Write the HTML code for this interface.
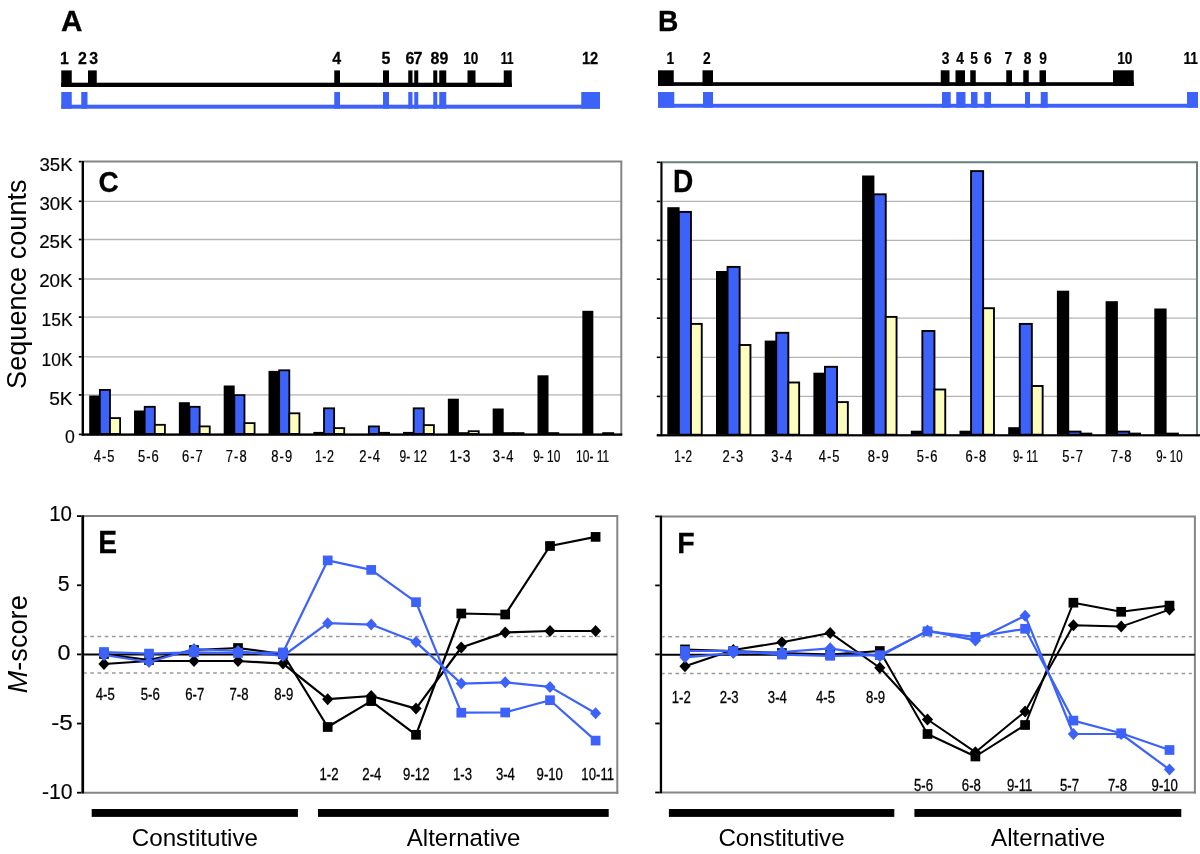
<!DOCTYPE html>
<html><head><meta charset="utf-8"><title>Figure</title>
<style>
html,body{margin:0;padding:0;background:#fff;}
svg{display:block;font-family:"Liberation Sans",sans-serif;}
</style></head><body>
<svg width="1200" height="854" viewBox="0 0 1200 854">
<rect x="0" y="0" width="1200" height="854" fill="#fff"/>
<text transform="translate(60.96,30.90) scale(0.9900,1)" font-size="30" font-weight="bold" stroke="#000" stroke-width="0.3" fill="#000">A</text>
<text transform="translate(658.10,30.60) scale(0.9399,1)" font-size="30" font-weight="bold" stroke="#000" stroke-width="0.3" fill="#000">B</text>
<rect x="61.25" y="82.70" width="450.50" height="4.30" fill="#000"/>
<rect x="61.25" y="70.40" width="10.50" height="16.60" fill="#000"/>
<rect x="88.00" y="70.40" width="8.75" height="16.60" fill="#000"/>
<rect x="334.25" y="70.40" width="5.75" height="16.60" fill="#000"/>
<rect x="383.00" y="70.40" width="6.00" height="16.60" fill="#000"/>
<rect x="408.25" y="70.40" width="4.25" height="16.60" fill="#000"/>
<rect x="414.25" y="70.40" width="4.00" height="16.60" fill="#000"/>
<rect x="433.25" y="70.40" width="4.00" height="16.60" fill="#000"/>
<rect x="439.25" y="70.40" width="7.00" height="16.60" fill="#000"/>
<rect x="467.50" y="70.40" width="8.00" height="16.60" fill="#000"/>
<rect x="503.75" y="70.40" width="8.00" height="16.60" fill="#000"/>
<rect x="61.25" y="104.70" width="538.75" height="4.00" fill="#3c62fa"/>
<rect x="61.25" y="92.00" width="10.50" height="16.70" fill="#3c62fa"/>
<rect x="81.25" y="92.00" width="6.25" height="16.70" fill="#3c62fa"/>
<rect x="334.25" y="92.00" width="5.75" height="16.70" fill="#3c62fa"/>
<rect x="383.00" y="92.00" width="6.00" height="16.70" fill="#3c62fa"/>
<rect x="408.25" y="92.00" width="4.25" height="16.70" fill="#3c62fa"/>
<rect x="414.25" y="92.00" width="4.00" height="16.70" fill="#3c62fa"/>
<rect x="433.25" y="92.00" width="4.00" height="16.70" fill="#3c62fa"/>
<rect x="439.25" y="92.00" width="7.00" height="16.70" fill="#3c62fa"/>
<rect x="581.25" y="92.00" width="18.75" height="16.70" fill="#3c62fa"/>
<text transform="translate(59.98,63.90) scale(0.9600,1)" font-size="16.6" font-weight="bold" stroke="#000" stroke-width="0.25" fill="#000">1</text>
<text transform="translate(78.10,63.90) scale(0.9600,1)" font-size="16.6" font-weight="bold" stroke="#000" stroke-width="0.25" fill="#000">2</text>
<text transform="translate(89.28,63.90) scale(0.9600,1)" font-size="16.6" font-weight="bold" stroke="#000" stroke-width="0.25" fill="#000">3</text>
<text transform="translate(332.23,63.90) scale(0.9600,1)" font-size="16.6" font-weight="bold" stroke="#000" stroke-width="0.25" fill="#000">4</text>
<text transform="translate(381.54,63.90) scale(0.9600,1)" font-size="16.6" font-weight="bold" stroke="#000" stroke-width="0.25" fill="#000">5</text>
<text transform="translate(405.38,63.90) scale(0.9600,1)" font-size="16.6" font-weight="bold" stroke="#000" stroke-width="0.25" fill="#000">6</text>
<text transform="translate(413.38,63.90) scale(0.9600,1)" font-size="16.6" font-weight="bold" stroke="#000" stroke-width="0.25" fill="#000">7</text>
<text transform="translate(430.38,63.90) scale(0.9600,1)" font-size="16.6" font-weight="bold" stroke="#000" stroke-width="0.25" fill="#000">8</text>
<text transform="translate(439.48,63.90) scale(0.9600,1)" font-size="16.6" font-weight="bold" stroke="#000" stroke-width="0.25" fill="#000">9</text>
<text transform="translate(463.15,63.90) scale(0.8192,1)" font-size="16.6" font-weight="bold" stroke="#000" stroke-width="0.25" fill="#000">10</text>
<text transform="translate(500.74,63.90) scale(0.7285,1)" font-size="16.6" font-weight="bold" stroke="#000" stroke-width="0.25" fill="#000">11</text>
<text transform="translate(581.98,63.90) scale(0.8827,1)" font-size="16.6" font-weight="bold" stroke="#000" stroke-width="0.25" fill="#000">12</text>
<rect x="658.00" y="82.20" width="475.75" height="3.70" fill="#000"/>
<rect x="658.00" y="70.30" width="15.75" height="15.60" fill="#000"/>
<rect x="702.50" y="70.30" width="10.50" height="15.60" fill="#000"/>
<rect x="940.75" y="70.30" width="8.75" height="15.60" fill="#000"/>
<rect x="955.50" y="70.30" width="9.50" height="15.60" fill="#000"/>
<rect x="970.25" y="70.30" width="5.50" height="15.60" fill="#000"/>
<rect x="1006.25" y="70.30" width="5.75" height="15.60" fill="#000"/>
<rect x="1023.25" y="70.30" width="5.50" height="15.60" fill="#000"/>
<rect x="1039.50" y="70.30" width="6.50" height="15.60" fill="#000"/>
<rect x="1113.00" y="70.30" width="20.75" height="15.60" fill="#000"/>
<rect x="658.00" y="103.80" width="540.00" height="3.90" fill="#3c62fa"/>
<rect x="658.00" y="92.00" width="16.25" height="15.70" fill="#3c62fa"/>
<rect x="703.00" y="92.00" width="10.00" height="15.70" fill="#3c62fa"/>
<rect x="942.00" y="92.00" width="8.75" height="15.70" fill="#3c62fa"/>
<rect x="956.25" y="92.00" width="9.25" height="15.70" fill="#3c62fa"/>
<rect x="971.00" y="92.00" width="6.50" height="15.70" fill="#3c62fa"/>
<rect x="984.25" y="92.00" width="6.75" height="15.70" fill="#3c62fa"/>
<rect x="1025.00" y="92.00" width="5.00" height="15.70" fill="#3c62fa"/>
<rect x="1040.75" y="92.00" width="7.00" height="15.70" fill="#3c62fa"/>
<rect x="1187.00" y="92.00" width="11.00" height="15.70" fill="#3c62fa"/>
<text transform="translate(666.42,63.90) scale(0.8400,1)" font-size="16.4" font-weight="bold" stroke="#000" stroke-width="0.2" fill="#000">1</text>
<text transform="translate(702.94,63.90) scale(0.8400,1)" font-size="16.4" font-weight="bold" stroke="#000" stroke-width="0.2" fill="#000">2</text>
<text transform="translate(941.76,63.90) scale(0.8400,1)" font-size="16.4" font-weight="bold" stroke="#000" stroke-width="0.2" fill="#000">3</text>
<text transform="translate(956.34,63.90) scale(0.8400,1)" font-size="16.4" font-weight="bold" stroke="#000" stroke-width="0.2" fill="#000">4</text>
<text transform="translate(970.14,63.90) scale(0.8400,1)" font-size="16.4" font-weight="bold" stroke="#000" stroke-width="0.2" fill="#000">5</text>
<text transform="translate(983.93,63.90) scale(0.8400,1)" font-size="16.4" font-weight="bold" stroke="#000" stroke-width="0.2" fill="#000">6</text>
<text transform="translate(1004.43,63.90) scale(0.8400,1)" font-size="16.4" font-weight="bold" stroke="#000" stroke-width="0.2" fill="#000">7</text>
<text transform="translate(1023.68,63.90) scale(0.8400,1)" font-size="16.4" font-weight="bold" stroke="#000" stroke-width="0.2" fill="#000">8</text>
<text transform="translate(1039.18,63.90) scale(0.8400,1)" font-size="16.4" font-weight="bold" stroke="#000" stroke-width="0.2" fill="#000">9</text>
<text transform="translate(1117.20,63.90) scale(0.8400,1)" font-size="16.4" font-weight="bold" stroke="#000" stroke-width="0.2" fill="#000">10</text>
<text transform="translate(1183.47,63.90) scale(0.8400,1)" font-size="16.4" font-weight="bold" stroke="#000" stroke-width="0.2" fill="#000">11</text>
<line x1="84.00" y1="394.90" x2="621.30" y2="394.90" stroke="#b4b4b4" stroke-width="1.3"/>
<line x1="84.00" y1="356.80" x2="621.30" y2="356.80" stroke="#b4b4b4" stroke-width="1.3"/>
<line x1="84.00" y1="317.10" x2="621.30" y2="317.10" stroke="#b4b4b4" stroke-width="1.3"/>
<line x1="84.00" y1="279.00" x2="621.30" y2="279.00" stroke="#b4b4b4" stroke-width="1.3"/>
<line x1="84.00" y1="239.50" x2="621.30" y2="239.50" stroke="#b4b4b4" stroke-width="1.3"/>
<line x1="84.00" y1="201.30" x2="621.30" y2="201.30" stroke="#b4b4b4" stroke-width="1.3"/>
<line x1="84.00" y1="161.60" x2="622.30" y2="161.60" stroke="#858585" stroke-width="2"/>
<line x1="621.30" y1="161.60" x2="621.30" y2="434.50" stroke="#858585" stroke-width="2"/>
<rect x="89.20" y="395.50" width="11.00" height="38.50" fill="#000"/>
<rect x="99.85" y="389.90" width="10.15" height="44.10" fill="#3c62fa" stroke="#000" stroke-width="1.8"/>
<rect x="110.00" y="418.10" width="10.10" height="15.90" fill="#fdfdbe" stroke="#000" stroke-width="1.8"/>
<rect x="134.03" y="410.50" width="11.00" height="23.50" fill="#000"/>
<rect x="144.68" y="406.80" width="10.15" height="27.20" fill="#3c62fa" stroke="#000" stroke-width="1.8"/>
<rect x="154.83" y="424.80" width="10.10" height="9.20" fill="#fdfdbe" stroke="#000" stroke-width="1.8"/>
<rect x="178.86" y="402.20" width="11.00" height="31.80" fill="#000"/>
<rect x="189.51" y="406.80" width="10.15" height="27.20" fill="#3c62fa" stroke="#000" stroke-width="1.8"/>
<rect x="199.66" y="426.40" width="10.10" height="7.60" fill="#fdfdbe" stroke="#000" stroke-width="1.8"/>
<rect x="223.69" y="385.50" width="11.00" height="48.50" fill="#000"/>
<rect x="234.34" y="395.10" width="10.15" height="38.90" fill="#3c62fa" stroke="#000" stroke-width="1.8"/>
<rect x="244.49" y="423.10" width="10.10" height="10.90" fill="#fdfdbe" stroke="#000" stroke-width="1.8"/>
<rect x="268.52" y="370.90" width="11.00" height="63.10" fill="#000"/>
<rect x="279.17" y="370.30" width="10.15" height="63.70" fill="#3c62fa" stroke="#000" stroke-width="1.8"/>
<rect x="289.32" y="413.30" width="10.10" height="20.70" fill="#fdfdbe" stroke="#000" stroke-width="1.8"/>
<rect x="313.35" y="431.90" width="11.00" height="2.10" fill="#000"/>
<rect x="324.00" y="408.30" width="10.15" height="25.70" fill="#3c62fa" stroke="#000" stroke-width="1.8"/>
<rect x="334.15" y="428.10" width="10.10" height="5.90" fill="#fdfdbe" stroke="#000" stroke-width="1.8"/>
<rect x="368.83" y="426.40" width="10.15" height="7.60" fill="#3c62fa" stroke="#000" stroke-width="1.8"/>
<rect x="378.98" y="432.80" width="10.10" height="1.20" fill="#fdfdbe" stroke="#000" stroke-width="1.8"/>
<rect x="403.01" y="431.90" width="11.00" height="2.10" fill="#000"/>
<rect x="413.66" y="408.30" width="10.15" height="25.70" fill="#3c62fa" stroke="#000" stroke-width="1.8"/>
<rect x="423.81" y="425.10" width="10.10" height="8.90" fill="#fdfdbe" stroke="#000" stroke-width="1.8"/>
<rect x="447.84" y="398.70" width="11.00" height="35.30" fill="#000"/>
<rect x="458.49" y="433.10" width="10.15" height="0.90" fill="#3c62fa" stroke="#000" stroke-width="1.8"/>
<rect x="468.64" y="431.20" width="10.10" height="2.80" fill="#fdfdbe" stroke="#000" stroke-width="1.8"/>
<rect x="492.67" y="408.50" width="11.00" height="25.50" fill="#000"/>
<rect x="503.32" y="433.10" width="10.15" height="0.90" fill="#3c62fa" stroke="#000" stroke-width="1.8"/>
<rect x="513.47" y="433.10" width="10.10" height="0.90" fill="#fdfdbe" stroke="#000" stroke-width="1.8"/>
<rect x="537.50" y="375.30" width="11.00" height="58.70" fill="#000"/>
<rect x="548.15" y="433.10" width="10.15" height="0.90" fill="#3c62fa" stroke="#000" stroke-width="1.8"/>
<rect x="582.33" y="310.80" width="11.00" height="123.20" fill="#000"/>
<rect x="603.13" y="433.10" width="10.10" height="0.90" fill="#fdfdbe" stroke="#000" stroke-width="1.8"/>
<rect x="81.60" y="160.80" width="2.40" height="274.70" fill="#000"/>
<rect x="81.60" y="433.40" width="540.70" height="2.40" fill="#000"/>
<rect x="78.80" y="433.55" width="2.80" height="1.70" fill="#000"/>
<rect x="78.80" y="394.05" width="2.80" height="1.70" fill="#000"/>
<rect x="78.80" y="355.95" width="2.80" height="1.70" fill="#000"/>
<rect x="78.80" y="316.25" width="2.80" height="1.70" fill="#000"/>
<rect x="78.80" y="278.15" width="2.80" height="1.70" fill="#000"/>
<rect x="78.80" y="238.65" width="2.80" height="1.70" fill="#000"/>
<rect x="78.80" y="200.45" width="2.80" height="1.70" fill="#000"/>
<rect x="78.80" y="160.75" width="2.80" height="1.70" fill="#000"/>
<text transform="translate(65.04,443.10) scale(0.9949,1)" font-size="17.8" stroke="#000" stroke-width="0.15" fill="#000">0</text>
<text transform="translate(49.13,404.50) scale(1.0804,1)" font-size="17.8" stroke="#000" stroke-width="0.15" fill="#000">5K</text>
<text transform="translate(41.59,365.80) scale(0.9792,1)" font-size="17.8" stroke="#000" stroke-width="0.15" fill="#000">10K</text>
<text transform="translate(41.59,326.30) scale(0.9792,1)" font-size="17.8" stroke="#000" stroke-width="0.15" fill="#000">15K</text>
<text transform="translate(39.16,287.40) scale(1.0565,1)" font-size="17.8" stroke="#000" stroke-width="0.15" fill="#000">20K</text>
<text transform="translate(39.16,248.30) scale(1.0565,1)" font-size="17.8" stroke="#000" stroke-width="0.15" fill="#000">25K</text>
<text transform="translate(39.40,209.60) scale(1.0489,1)" font-size="17.8" stroke="#000" stroke-width="0.15" fill="#000">30K</text>
<text transform="translate(39.40,170.60) scale(1.0489,1)" font-size="17.8" stroke="#000" stroke-width="0.15" fill="#000">35K</text>
<text transform="translate(98.38,191.90) scale(0.9221,1)" font-size="30.3" font-weight="bold" stroke="#000" stroke-width="0.3" fill="#000">C</text>
<text transform="translate(93.73,462.00) scale(0.7900,1)" font-size="16.4" letter-spacing="1.3" stroke="#000" stroke-width="0.22" fill="#000">4-5</text>
<text transform="translate(137.93,462.00) scale(0.7900,1)" font-size="16.4" letter-spacing="1.3" stroke="#000" stroke-width="0.22" fill="#000">5-6</text>
<text transform="translate(181.90,462.00) scale(0.7900,1)" font-size="16.4" letter-spacing="1.3" stroke="#000" stroke-width="0.22" fill="#000">6-7</text>
<text transform="translate(225.86,462.00) scale(0.7900,1)" font-size="16.4" letter-spacing="1.3" stroke="#000" stroke-width="0.22" fill="#000">7-8</text>
<text transform="translate(271.33,462.00) scale(0.7900,1)" font-size="16.4" letter-spacing="1.3" stroke="#000" stroke-width="0.22" fill="#000">8-9</text>
<text transform="translate(314.91,462.00) scale(0.7646,1)" font-size="16.4" letter-spacing="0.6" stroke="#000" stroke-width="0.22" fill="#000">1-2</text>
<text transform="translate(359.27,462.00) scale(0.7900,1)" font-size="16.4" letter-spacing="1.3" stroke="#000" stroke-width="0.22" fill="#000">2-4</text>
<text transform="translate(399.48,462.00) scale(0.7348,1)" font-size="16.4" stroke="#000" stroke-width="0.22" fill="#000">9- 12</text>
<text transform="translate(449.47,462.00) scale(0.8358,1)" font-size="16.4" letter-spacing="0.6" stroke="#000" stroke-width="0.22" fill="#000">1-3</text>
<text transform="translate(492.75,462.00) scale(0.7900,1)" font-size="16.4" letter-spacing="1.3" stroke="#000" stroke-width="0.22" fill="#000">3-4</text>
<text transform="translate(533.13,462.00) scale(0.7286,1)" font-size="16.4" stroke="#000" stroke-width="0.22" fill="#000">9- 10</text>
<text transform="translate(576.10,462.00) scale(0.7306,1)" font-size="16.4" stroke="#000" stroke-width="0.22" fill="#000">10- 11</text>
<text transform="translate(26.3,388.9) rotate(-90)" font-size="27.12">Sequence counts</text>
<line x1="662.40" y1="396.40" x2="1197.00" y2="396.40" stroke="#b4b4b4" stroke-width="1.3"/>
<line x1="662.40" y1="357.30" x2="1197.00" y2="357.30" stroke="#b4b4b4" stroke-width="1.3"/>
<line x1="662.40" y1="318.20" x2="1197.00" y2="318.20" stroke="#b4b4b4" stroke-width="1.3"/>
<line x1="662.40" y1="279.20" x2="1197.00" y2="279.20" stroke="#b4b4b4" stroke-width="1.3"/>
<line x1="662.40" y1="240.40" x2="1197.00" y2="240.40" stroke="#b4b4b4" stroke-width="1.3"/>
<line x1="662.40" y1="201.40" x2="1197.00" y2="201.40" stroke="#b4b4b4" stroke-width="1.3"/>
<line x1="662.40" y1="162.30" x2="1198.00" y2="162.30" stroke="#67807a" stroke-width="2"/>
<line x1="1197.00" y1="162.30" x2="1197.00" y2="435.20" stroke="#67807a" stroke-width="2"/>
<rect x="667.30" y="207.20" width="12.30" height="227.50" fill="#000"/>
<rect x="678.85" y="211.90" width="12.10" height="222.80" fill="#3c62fa" stroke="#000" stroke-width="1.9"/>
<rect x="690.95" y="323.90" width="10.80" height="110.80" fill="#fdfdbe" stroke="#000" stroke-width="1.9"/>
<rect x="716.00" y="271.00" width="12.30" height="163.70" fill="#000"/>
<rect x="727.55" y="266.90" width="12.10" height="167.80" fill="#3c62fa" stroke="#000" stroke-width="1.9"/>
<rect x="739.65" y="345.00" width="10.80" height="89.70" fill="#fdfdbe" stroke="#000" stroke-width="1.9"/>
<rect x="764.70" y="340.60" width="12.30" height="94.10" fill="#000"/>
<rect x="776.25" y="332.80" width="12.10" height="101.90" fill="#3c62fa" stroke="#000" stroke-width="1.9"/>
<rect x="788.35" y="382.50" width="10.80" height="52.20" fill="#fdfdbe" stroke="#000" stroke-width="1.9"/>
<rect x="813.40" y="372.70" width="12.30" height="62.00" fill="#000"/>
<rect x="824.95" y="366.80" width="12.10" height="67.90" fill="#3c62fa" stroke="#000" stroke-width="1.9"/>
<rect x="837.05" y="402.10" width="10.80" height="32.60" fill="#fdfdbe" stroke="#000" stroke-width="1.9"/>
<rect x="862.10" y="175.50" width="12.30" height="259.20" fill="#000"/>
<rect x="873.65" y="194.30" width="12.10" height="240.40" fill="#3c62fa" stroke="#000" stroke-width="1.9"/>
<rect x="885.75" y="316.90" width="10.80" height="117.80" fill="#fdfdbe" stroke="#000" stroke-width="1.9"/>
<rect x="910.80" y="430.70" width="12.30" height="4.00" fill="#000"/>
<rect x="922.35" y="331.00" width="12.10" height="103.70" fill="#3c62fa" stroke="#000" stroke-width="1.9"/>
<rect x="934.45" y="389.50" width="10.80" height="45.20" fill="#fdfdbe" stroke="#000" stroke-width="1.9"/>
<rect x="959.50" y="430.70" width="12.30" height="4.00" fill="#000"/>
<rect x="971.05" y="171.10" width="12.10" height="263.60" fill="#3c62fa" stroke="#000" stroke-width="1.9"/>
<rect x="983.15" y="308.20" width="10.80" height="126.50" fill="#fdfdbe" stroke="#000" stroke-width="1.9"/>
<rect x="1008.20" y="427.20" width="12.30" height="7.50" fill="#000"/>
<rect x="1019.75" y="323.90" width="12.10" height="110.80" fill="#3c62fa" stroke="#000" stroke-width="1.9"/>
<rect x="1031.85" y="386.00" width="10.80" height="48.70" fill="#fdfdbe" stroke="#000" stroke-width="1.9"/>
<rect x="1056.90" y="290.70" width="12.30" height="144.00" fill="#000"/>
<rect x="1068.45" y="431.60" width="12.10" height="3.10" fill="#3c62fa" stroke="#000" stroke-width="1.9"/>
<rect x="1080.55" y="433.60" width="10.80" height="1.10" fill="#fdfdbe" stroke="#000" stroke-width="1.9"/>
<rect x="1105.60" y="301.20" width="12.30" height="133.50" fill="#000"/>
<rect x="1117.15" y="431.60" width="12.10" height="3.10" fill="#3c62fa" stroke="#000" stroke-width="1.9"/>
<rect x="1129.25" y="433.60" width="10.80" height="1.10" fill="#fdfdbe" stroke="#000" stroke-width="1.9"/>
<rect x="1154.30" y="308.50" width="12.30" height="126.20" fill="#000"/>
<rect x="1165.85" y="433.60" width="12.10" height="1.10" fill="#3c62fa" stroke="#000" stroke-width="1.9"/>
<rect x="660.40" y="161.50" width="2.10" height="274.70" fill="#000"/>
<rect x="656.80" y="434.20" width="543.20" height="2.20" fill="#000"/>
<rect x="656.80" y="434.50" width="3.60" height="1.60" fill="#000"/>
<rect x="656.80" y="395.60" width="3.60" height="1.60" fill="#000"/>
<rect x="656.80" y="356.50" width="3.60" height="1.60" fill="#000"/>
<rect x="656.80" y="317.40" width="3.60" height="1.60" fill="#000"/>
<rect x="656.80" y="278.40" width="3.60" height="1.60" fill="#000"/>
<rect x="656.80" y="239.60" width="3.60" height="1.60" fill="#000"/>
<rect x="656.80" y="200.60" width="3.60" height="1.60" fill="#000"/>
<rect x="656.80" y="161.50" width="3.60" height="1.60" fill="#000"/>
<text transform="translate(673.10,191.80) scale(0.9117,1)" font-size="30.8" font-weight="bold" stroke="#000" stroke-width="0.3" fill="#000">D</text>
<text transform="translate(674.22,462.20) scale(0.7165,1)" font-size="16.4" letter-spacing="0.6" stroke="#000" stroke-width="0.22" fill="#000">1-2</text>
<text transform="translate(722.56,462.20) scale(0.7900,1)" font-size="16.4" letter-spacing="1.3" stroke="#000" stroke-width="0.22" fill="#000">2-3</text>
<text transform="translate(771.35,462.20) scale(0.7900,1)" font-size="16.4" letter-spacing="1.3" stroke="#000" stroke-width="0.22" fill="#000">3-4</text>
<text transform="translate(818.73,462.20) scale(0.7900,1)" font-size="16.4" letter-spacing="1.3" stroke="#000" stroke-width="0.22" fill="#000">4-5</text>
<text transform="translate(867.83,462.20) scale(0.7900,1)" font-size="16.4" letter-spacing="1.3" stroke="#000" stroke-width="0.22" fill="#000">8-9</text>
<text transform="translate(916.73,462.20) scale(0.7900,1)" font-size="16.4" letter-spacing="1.3" stroke="#000" stroke-width="0.22" fill="#000">5-6</text>
<text transform="translate(965.56,462.20) scale(0.7900,1)" font-size="16.4" letter-spacing="1.3" stroke="#000" stroke-width="0.22" fill="#000">6-8</text>
<text transform="translate(1013.01,462.20) scale(0.6907,1)" font-size="16.4" stroke="#000" stroke-width="0.22" fill="#000">9- 11</text>
<text transform="translate(1062.26,462.20) scale(0.7900,1)" font-size="16.4" letter-spacing="1.3" stroke="#000" stroke-width="0.22" fill="#000">5-7</text>
<text transform="translate(1110.76,462.20) scale(0.7900,1)" font-size="16.4" letter-spacing="1.3" stroke="#000" stroke-width="0.22" fill="#000">7-8</text>
<text transform="translate(1156.30,462.20) scale(0.7036,1)" font-size="16.4" stroke="#000" stroke-width="0.22" fill="#000">9- 10</text>
<line x1="84.10" y1="516.10" x2="618.30" y2="516.10" stroke="#858585" stroke-width="2"/>
<line x1="617.30" y1="516.10" x2="617.30" y2="793.70" stroke="#858585" stroke-width="2"/>
<line x1="84.10" y1="792.70" x2="618.30" y2="792.70" stroke="#858585" stroke-width="2"/>
<line x1="84.10" y1="636.50" x2="614.30" y2="636.50" stroke="#9a9a9a" stroke-width="1.5" stroke-dasharray="3.7,3.53" stroke-dashoffset="1.1"/>
<line x1="84.10" y1="673.10" x2="614.30" y2="673.10" stroke="#9a9a9a" stroke-width="1.5" stroke-dasharray="3.7,3.53" stroke-dashoffset="1.1"/>
<line x1="84.10" y1="654.50" x2="617.30" y2="654.50" stroke="#000" stroke-width="2.0"/>
<polyline points="104.00,654.00 149.00,660.00 194.00,650.00 238.00,648.00 283.00,654.00 327.70,727.00 371.20,701.10 416.00,734.80 461.30,613.50 505.20,614.50 550.00,546.00 595.60,536.90" fill="none" stroke="#000" stroke-width="2.2" stroke-linejoin="round"/>
<rect x="99.15" y="649.15" width="9.70" height="9.70" fill="#000"/>
<rect x="144.15" y="655.15" width="9.70" height="9.70" fill="#000"/>
<rect x="189.15" y="645.15" width="9.70" height="9.70" fill="#000"/>
<rect x="233.15" y="643.15" width="9.70" height="9.70" fill="#000"/>
<rect x="278.15" y="649.15" width="9.70" height="9.70" fill="#000"/>
<rect x="322.85" y="722.15" width="9.70" height="9.70" fill="#000"/>
<rect x="366.35" y="696.25" width="9.70" height="9.70" fill="#000"/>
<rect x="411.15" y="729.95" width="9.70" height="9.70" fill="#000"/>
<rect x="456.45" y="608.65" width="9.70" height="9.70" fill="#000"/>
<rect x="500.35" y="609.65" width="9.70" height="9.70" fill="#000"/>
<rect x="545.15" y="541.15" width="9.70" height="9.70" fill="#000"/>
<rect x="590.75" y="532.05" width="9.70" height="9.70" fill="#000"/>
<polyline points="104.00,664.00 149.00,661.00 194.00,661.00 238.00,661.00 283.00,663.60 327.70,699.20 371.20,696.00 416.00,708.60 461.30,647.50 505.20,632.40 550.00,631.00 595.60,631.00" fill="none" stroke="#000" stroke-width="2.2" stroke-linejoin="round"/>
<polygon points="104.00,658.00 109.60,664.00 104.00,670.00 98.40,664.00" fill="#000"/>
<polygon points="149.00,655.00 154.60,661.00 149.00,667.00 143.40,661.00" fill="#000"/>
<polygon points="194.00,655.00 199.60,661.00 194.00,667.00 188.40,661.00" fill="#000"/>
<polygon points="238.00,655.00 243.60,661.00 238.00,667.00 232.40,661.00" fill="#000"/>
<polygon points="283.00,657.60 288.60,663.60 283.00,669.60 277.40,663.60" fill="#000"/>
<polygon points="327.70,693.20 333.30,699.20 327.70,705.20 322.10,699.20" fill="#000"/>
<polygon points="371.20,690.00 376.80,696.00 371.20,702.00 365.60,696.00" fill="#000"/>
<polygon points="416.00,702.60 421.60,708.60 416.00,714.60 410.40,708.60" fill="#000"/>
<polygon points="461.30,641.50 466.90,647.50 461.30,653.50 455.70,647.50" fill="#000"/>
<polygon points="505.20,626.40 510.80,632.40 505.20,638.40 499.60,632.40" fill="#000"/>
<polygon points="550.00,625.00 555.60,631.00 550.00,637.00 544.40,631.00" fill="#000"/>
<polygon points="595.60,625.00 601.20,631.00 595.60,637.00 590.00,631.00" fill="#000"/>
<polyline points="104.00,655.00 149.00,662.00 194.00,649.00 238.00,651.00 283.00,656.00 327.70,623.20 371.20,624.60 416.00,642.10 461.30,683.60 505.20,682.30 550.00,686.90 595.60,713.20" fill="none" stroke="#3c62fa" stroke-width="2.2" stroke-linejoin="round"/>
<polygon points="104.00,649.00 109.60,655.00 104.00,661.00 98.40,655.00" fill="#3c62fa"/>
<polygon points="149.00,656.00 154.60,662.00 149.00,668.00 143.40,662.00" fill="#3c62fa"/>
<polygon points="194.00,643.00 199.60,649.00 194.00,655.00 188.40,649.00" fill="#3c62fa"/>
<polygon points="238.00,645.00 243.60,651.00 238.00,657.00 232.40,651.00" fill="#3c62fa"/>
<polygon points="283.00,650.00 288.60,656.00 283.00,662.00 277.40,656.00" fill="#3c62fa"/>
<polygon points="327.70,617.20 333.30,623.20 327.70,629.20 322.10,623.20" fill="#3c62fa"/>
<polygon points="371.20,618.60 376.80,624.60 371.20,630.60 365.60,624.60" fill="#3c62fa"/>
<polygon points="416.00,636.10 421.60,642.10 416.00,648.10 410.40,642.10" fill="#3c62fa"/>
<polygon points="461.30,677.60 466.90,683.60 461.30,689.60 455.70,683.60" fill="#3c62fa"/>
<polygon points="505.20,676.30 510.80,682.30 505.20,688.30 499.60,682.30" fill="#3c62fa"/>
<polygon points="550.00,680.90 555.60,686.90 550.00,692.90 544.40,686.90" fill="#3c62fa"/>
<polygon points="595.60,707.20 601.20,713.20 595.60,719.20 590.00,713.20" fill="#3c62fa"/>
<polyline points="104.00,652.00 149.00,653.60 194.00,652.40 238.00,653.00 283.00,652.40 327.70,560.40 371.20,569.90 416.00,602.20 461.30,712.70 505.20,712.50 550.00,700.20 595.60,740.60" fill="none" stroke="#3c62fa" stroke-width="2.2" stroke-linejoin="round"/>
<rect x="99.15" y="647.15" width="9.70" height="9.70" fill="#3c62fa"/>
<rect x="144.15" y="648.75" width="9.70" height="9.70" fill="#3c62fa"/>
<rect x="189.15" y="647.55" width="9.70" height="9.70" fill="#3c62fa"/>
<rect x="233.15" y="648.15" width="9.70" height="9.70" fill="#3c62fa"/>
<rect x="278.15" y="647.55" width="9.70" height="9.70" fill="#3c62fa"/>
<rect x="322.85" y="555.55" width="9.70" height="9.70" fill="#3c62fa"/>
<rect x="366.35" y="565.05" width="9.70" height="9.70" fill="#3c62fa"/>
<rect x="411.15" y="597.35" width="9.70" height="9.70" fill="#3c62fa"/>
<rect x="456.45" y="707.85" width="9.70" height="9.70" fill="#3c62fa"/>
<rect x="500.35" y="707.65" width="9.70" height="9.70" fill="#3c62fa"/>
<rect x="545.15" y="695.35" width="9.70" height="9.70" fill="#3c62fa"/>
<rect x="590.75" y="735.75" width="9.70" height="9.70" fill="#3c62fa"/>
<rect x="81.40" y="515.20" width="2.70" height="278.40" fill="#000"/>
<rect x="77.00" y="515.20" width="4.40" height="1.80" fill="#000"/>
<rect x="77.00" y="584.35" width="4.40" height="1.80" fill="#000"/>
<rect x="77.00" y="653.50" width="4.40" height="1.80" fill="#000"/>
<rect x="77.00" y="722.65" width="4.40" height="1.80" fill="#000"/>
<rect x="77.00" y="791.80" width="4.40" height="1.80" fill="#000"/>
<line x1="662.10" y1="516.40" x2="1195.90" y2="516.40" stroke="#858585" stroke-width="2"/>
<line x1="1194.90" y1="516.40" x2="1194.90" y2="793.50" stroke="#858585" stroke-width="2"/>
<line x1="662.10" y1="792.50" x2="1195.90" y2="792.50" stroke="#858585" stroke-width="2"/>
<line x1="662.10" y1="636.80" x2="1191.90" y2="636.80" stroke="#9a9a9a" stroke-width="1.5" stroke-dasharray="3.7,3.53" stroke-dashoffset="1.1"/>
<line x1="662.10" y1="673.40" x2="1191.90" y2="673.40" stroke="#9a9a9a" stroke-width="1.5" stroke-dasharray="3.7,3.53" stroke-dashoffset="1.1"/>
<line x1="662.10" y1="654.80" x2="1194.90" y2="654.80" stroke="#000" stroke-width="2.0"/>
<polyline points="685.00,649.40 733.30,651.00 781.90,653.00 830.20,654.60 879.80,651.00 927.50,734.00 975.40,756.50 1025.10,725.00 1073.40,602.70 1121.20,611.80 1169.50,605.60" fill="none" stroke="#000" stroke-width="2.0" stroke-linejoin="round"/>
<rect x="680.15" y="644.55" width="9.70" height="9.70" fill="#000"/>
<rect x="728.45" y="646.15" width="9.70" height="9.70" fill="#000"/>
<rect x="777.05" y="648.15" width="9.70" height="9.70" fill="#000"/>
<rect x="825.35" y="649.75" width="9.70" height="9.70" fill="#000"/>
<rect x="874.95" y="646.15" width="9.70" height="9.70" fill="#000"/>
<rect x="922.65" y="729.15" width="9.70" height="9.70" fill="#000"/>
<rect x="970.55" y="751.65" width="9.70" height="9.70" fill="#000"/>
<rect x="1020.25" y="720.15" width="9.70" height="9.70" fill="#000"/>
<rect x="1068.55" y="597.85" width="9.70" height="9.70" fill="#000"/>
<rect x="1116.35" y="606.95" width="9.70" height="9.70" fill="#000"/>
<rect x="1164.65" y="600.75" width="9.70" height="9.70" fill="#000"/>
<polyline points="685.00,666.30 733.30,650.00 781.90,642.30 830.20,632.90 879.80,667.70 927.50,719.50 975.40,752.20 1025.10,711.50 1073.40,625.20 1121.20,626.60 1169.50,609.60" fill="none" stroke="#000" stroke-width="2.0" stroke-linejoin="round"/>
<polygon points="685.00,660.30 690.60,666.30 685.00,672.30 679.40,666.30" fill="#000"/>
<polygon points="733.30,644.00 738.90,650.00 733.30,656.00 727.70,650.00" fill="#000"/>
<polygon points="781.90,636.30 787.50,642.30 781.90,648.30 776.30,642.30" fill="#000"/>
<polygon points="830.20,626.90 835.80,632.90 830.20,638.90 824.60,632.90" fill="#000"/>
<polygon points="879.80,661.70 885.40,667.70 879.80,673.70 874.20,667.70" fill="#000"/>
<polygon points="927.50,713.50 933.10,719.50 927.50,725.50 921.90,719.50" fill="#000"/>
<polygon points="975.40,746.20 981.00,752.20 975.40,758.20 969.80,752.20" fill="#000"/>
<polygon points="1025.10,705.50 1030.70,711.50 1025.10,717.50 1019.50,711.50" fill="#000"/>
<polygon points="1073.40,619.20 1079.00,625.20 1073.40,631.20 1067.80,625.20" fill="#000"/>
<polygon points="1121.20,620.60 1126.80,626.60 1121.20,632.60 1115.60,626.60" fill="#000"/>
<polygon points="1169.50,603.60 1175.10,609.60 1169.50,615.60 1163.90,609.60" fill="#000"/>
<polyline points="685.00,657.30 733.30,653.10 781.90,652.00 830.20,648.30 879.80,656.30 927.50,630.60 975.40,640.40 1025.10,615.70 1073.40,734.00 1121.20,734.00 1169.50,769.60" fill="none" stroke="#3c62fa" stroke-width="2.2" stroke-linejoin="round"/>
<polygon points="685.00,651.30 690.60,657.30 685.00,663.30 679.40,657.30" fill="#3c62fa"/>
<polygon points="733.30,647.10 738.90,653.10 733.30,659.10 727.70,653.10" fill="#3c62fa"/>
<polygon points="781.90,646.00 787.50,652.00 781.90,658.00 776.30,652.00" fill="#3c62fa"/>
<polygon points="830.20,642.30 835.80,648.30 830.20,654.30 824.60,648.30" fill="#3c62fa"/>
<polygon points="879.80,650.30 885.40,656.30 879.80,662.30 874.20,656.30" fill="#3c62fa"/>
<polygon points="927.50,624.60 933.10,630.60 927.50,636.60 921.90,630.60" fill="#3c62fa"/>
<polygon points="975.40,634.40 981.00,640.40 975.40,646.40 969.80,640.40" fill="#3c62fa"/>
<polygon points="1025.10,609.70 1030.70,615.70 1025.10,621.70 1019.50,615.70" fill="#3c62fa"/>
<polygon points="1073.40,728.00 1079.00,734.00 1073.40,740.00 1067.80,734.00" fill="#3c62fa"/>
<polygon points="1121.20,728.00 1126.80,734.00 1121.20,740.00 1115.60,734.00" fill="#3c62fa"/>
<polygon points="1169.50,763.60 1175.10,769.60 1169.50,775.60 1163.90,769.60" fill="#3c62fa"/>
<polyline points="685.00,651.00 733.30,651.00 781.90,654.60 830.20,655.80 879.80,655.20 927.50,631.30 975.40,636.80 1025.10,628.80 1073.40,720.60 1121.20,733.30 1169.50,750.00" fill="none" stroke="#3c62fa" stroke-width="2.2" stroke-linejoin="round"/>
<rect x="680.15" y="646.15" width="9.70" height="9.70" fill="#3c62fa"/>
<rect x="728.45" y="646.15" width="9.70" height="9.70" fill="#3c62fa"/>
<rect x="777.05" y="649.75" width="9.70" height="9.70" fill="#3c62fa"/>
<rect x="825.35" y="650.95" width="9.70" height="9.70" fill="#3c62fa"/>
<rect x="874.95" y="650.35" width="9.70" height="9.70" fill="#3c62fa"/>
<rect x="922.65" y="626.45" width="9.70" height="9.70" fill="#3c62fa"/>
<rect x="970.55" y="631.95" width="9.70" height="9.70" fill="#3c62fa"/>
<rect x="1020.25" y="623.95" width="9.70" height="9.70" fill="#3c62fa"/>
<rect x="1068.55" y="715.75" width="9.70" height="9.70" fill="#3c62fa"/>
<rect x="1116.35" y="728.45" width="9.70" height="9.70" fill="#3c62fa"/>
<rect x="1164.65" y="745.15" width="9.70" height="9.70" fill="#3c62fa"/>
<rect x="659.80" y="515.50" width="2.30" height="277.90" fill="#000"/>
<rect x="655.20" y="515.50" width="4.60" height="1.80" fill="#000"/>
<rect x="655.20" y="584.52" width="4.60" height="1.80" fill="#000"/>
<rect x="655.20" y="653.55" width="4.60" height="1.80" fill="#000"/>
<rect x="655.20" y="722.58" width="4.60" height="1.80" fill="#000"/>
<rect x="655.20" y="791.60" width="4.60" height="1.80" fill="#000"/>
<text transform="translate(49.16,520.60) scale(0.9694,1)" font-size="21.2" stroke="#000" stroke-width="0.15" fill="#000">10</text>
<text transform="translate(57.65,590.60) scale(1.0030,1)" font-size="21.2" stroke="#000" stroke-width="0.15" fill="#000">5</text>
<text transform="translate(57.42,660.20) scale(1.1006,1)" font-size="21.2" stroke="#000" stroke-width="0.15" fill="#000">0</text>
<text transform="translate(51.21,730.00) scale(1.1462,1)" font-size="21.2" stroke="#000" stroke-width="0.15" fill="#000">-5</text>
<text transform="translate(41.95,798.60) scale(1.0005,1)" font-size="21.2" stroke="#000" stroke-width="0.15" fill="#000">-10</text>
<text transform="translate(98.30,552.60) scale(0.9220,1)" font-size="30.6" font-weight="bold" stroke="#000" stroke-width="0.3" fill="#000">E</text>
<text transform="translate(677.27,552.70) scale(0.9461,1)" font-size="30.2" font-weight="bold" stroke="#000" stroke-width="0.3" fill="#000">F</text>
<text transform="translate(26.8,693.3) rotate(-90) scale(0.953,1)" font-size="28.5"><tspan font-style="italic">M</tspan>-score</text>
<text transform="translate(95.80,700.00) scale(0.7750,1)" font-size="17" stroke="#000" stroke-width="0.3" fill="#000">4-5</text>
<text transform="translate(140.70,700.00) scale(0.7750,1)" font-size="17" stroke="#000" stroke-width="0.3" fill="#000">5-6</text>
<text transform="translate(185.26,700.00) scale(0.7750,1)" font-size="17" stroke="#000" stroke-width="0.3" fill="#000">6-7</text>
<text transform="translate(229.43,700.00) scale(0.7750,1)" font-size="17" stroke="#000" stroke-width="0.3" fill="#000">7-8</text>
<text transform="translate(274.20,700.00) scale(0.7750,1)" font-size="17" stroke="#000" stroke-width="0.3" fill="#000">8-9</text>
<text transform="translate(319.50,779.80) scale(0.7750,1)" font-size="17" stroke="#000" stroke-width="0.3" fill="#000">1-2</text>
<text transform="translate(362.33,779.80) scale(0.7750,1)" font-size="17" stroke="#000" stroke-width="0.3" fill="#000">2-4</text>
<text transform="translate(403.12,779.80) scale(0.7750,1)" font-size="17" stroke="#000" stroke-width="0.3" fill="#000">9-12</text>
<text transform="translate(452.97,779.80) scale(0.7750,1)" font-size="17" stroke="#000" stroke-width="0.3" fill="#000">1-3</text>
<text transform="translate(495.92,779.80) scale(0.7750,1)" font-size="17" stroke="#000" stroke-width="0.3" fill="#000">3-4</text>
<text transform="translate(536.56,779.80) scale(0.7750,1)" font-size="17" stroke="#000" stroke-width="0.3" fill="#000">9-10</text>
<text transform="translate(581.37,779.80) scale(0.7750,1)" font-size="17" stroke="#000" stroke-width="0.3" fill="#000">10-11</text>
<text transform="translate(671.80,703.10) scale(0.7750,1)" font-size="17" stroke="#000" stroke-width="0.3" fill="#000">1-2</text>
<text transform="translate(719.63,703.10) scale(0.7750,1)" font-size="17" stroke="#000" stroke-width="0.3" fill="#000">2-3</text>
<text transform="translate(767.82,703.10) scale(0.7750,1)" font-size="17" stroke="#000" stroke-width="0.3" fill="#000">3-4</text>
<text transform="translate(816.00,703.10) scale(0.7750,1)" font-size="17" stroke="#000" stroke-width="0.3" fill="#000">4-5</text>
<text transform="translate(866.10,703.10) scale(0.7750,1)" font-size="17" stroke="#000" stroke-width="0.3" fill="#000">8-9</text>
<text transform="translate(914.00,790.90) scale(0.7750,1)" font-size="17" stroke="#000" stroke-width="0.3" fill="#000">5-6</text>
<text transform="translate(961.83,790.90) scale(0.7750,1)" font-size="17" stroke="#000" stroke-width="0.3" fill="#000">6-8</text>
<text transform="translate(1007.02,790.90) scale(0.7750,1)" font-size="17" stroke="#000" stroke-width="0.3" fill="#000">9-11</text>
<text transform="translate(1059.93,790.90) scale(0.7750,1)" font-size="17" stroke="#000" stroke-width="0.3" fill="#000">5-7</text>
<text transform="translate(1108.03,790.90) scale(0.7750,1)" font-size="17" stroke="#000" stroke-width="0.3" fill="#000">7-8</text>
<text transform="translate(1151.56,790.90) scale(0.7750,1)" font-size="17" stroke="#000" stroke-width="0.3" fill="#000">9-10</text>
<rect x="91.70" y="809.00" width="206.20" height="7.90" fill="#000"/>
<rect x="318.00" y="809.00" width="290.70" height="7.90" fill="#000"/>
<rect x="668.90" y="809.00" width="225.40" height="7.90" fill="#000"/>
<rect x="914.40" y="809.00" width="266.90" height="7.90" fill="#000"/>
<text transform="translate(131.79,846.10) scale(0.9947,1)" font-size="24.3" fill="#000">Constitutive</text>
<text transform="translate(406.74,846.10) scale(0.9906,1)" font-size="24.3" fill="#000">Alternative</text>
<text transform="translate(718.39,846.10) scale(0.9947,1)" font-size="24.3" fill="#000">Constitutive</text>
<text transform="translate(991.04,846.10) scale(0.9942,1)" font-size="24.3" fill="#000">Alternative</text>
</svg>
</body></html>
